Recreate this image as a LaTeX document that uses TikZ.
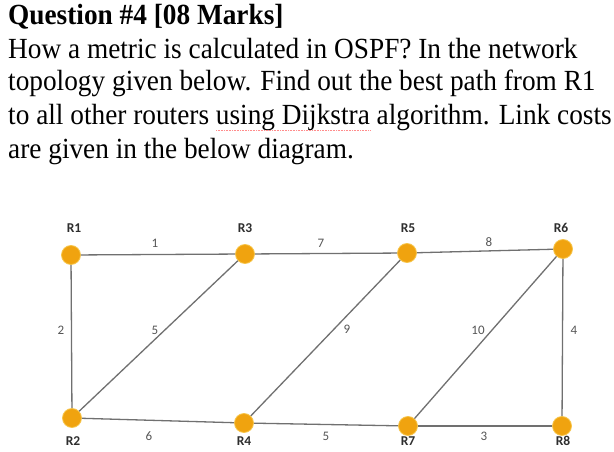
\documentclass[tikz,border=0pt]{standalone}
\usepackage{fontspec}
\setmainfont{Liberation Serif}
\newfontfamily\lblfont{Carlito}
\definecolor{nodeor}{HTML}{F0A30F}
\definecolor{nodeedge}{HTML}{F7C54A}
\definecolor{edgegray}{HTML}{707070}
\definecolor{lblgray}{HTML}{555555}
\definecolor{rname}{HTML}{2E2E2E}
\newcommand{\tallq}[1]{\scalebox{1}[1.07]{#1}}
\tikzset{
  router/.style={circle,fill=nodeor,draw=nodeedge,line width=0.8pt,minimum size=19pt,inner sep=0pt},
  link/.style={draw=edgegray,line width=1.3pt},
  cost/.style={font=\lblfont\fontsize{13}{13}\selectfont,text=lblgray,inner sep=0pt},
  rlabel/.style={font=\lblfont\bfseries\fontsize{13.5}{13.5}\selectfont,text=rname,inner sep=0pt},
  qline/.style={anchor=base west,inner sep=0pt,font=\fontsize{27.3}{27.3}\selectfont},
}
\begin{document}
\begin{tikzpicture}[x=1pt,y=-1pt]
\useasboundingbox[fill=white] (0,0) rectangle (614,452);
% question text
\node[qline,font=\bfseries\fontsize{27.3}{27.3}\selectfont] (t0) at (8,24.5) {\tallq{Question \#4 [08 Marks]}};
\node[qline] (t1) at (8,59) {\tallq{How a metric is calculated in OSPF? In the network}};
\node[qline] (t2) at (8,91) {\tallq{topology given below. Find out the best path from R1}};
\node[qline] (t3) at (8,124.5) {\tallq{to all other routers using Dijkstra algorithm. Link costs}};
\node[qline] (t4) at (8,158) {\tallq{are given in the below diagram.}};
\draw[red!45,line width=0.6pt,dash pattern=on 0.8pt off 0.8pt] (216,130) -- (370,130);
% routers
\node[router] (R1) at (71,255) {};
\node[router] (R3) at (245,254) {};
\node[router] (R5) at (407,253) {};
\node[router] (R6) at (563,249) {};
\node[router] (R2) at (72,418) {};
\node[router] (R4) at (244,423) {};
\node[router] (R7) at (408,426) {};
\node[router] (R8) at (562,426) {};
% links
\path[link] (R1) -- (R3);
\path[link] (R3) -- (R5);
\path[link] (R5) -- (R6);
\path[link] (R1) -- (R2);
\path[link] (R2) -- (R3);
\path[link] (R4) -- (R5);
\path[link] (R7) -- (R6);
\path[link] (R6) -- (R8);
\path[link] (R2) -- (R4);
\path[link] (R4) -- (R7);
\path[link] (R7) -- (R8);
% router names
\node[rlabel] (n1) at (74,228) {R1};
\node[rlabel] (n3) at (245,228) {R3};
\node[rlabel] (n5) at (408,228) {R5};
\node[rlabel] (n6) at (561,228) {R6};
\node[rlabel] (n2) at (73,441) {R2};
\node[rlabel] (n4) at (244,441) {R4};
\node[rlabel] (n7) at (408,441) {R7};
\node[rlabel] (n8) at (563,441) {R8};
% costs
\node[cost] (c1) at (155,243) {1};
\node[cost] (c7) at (321,243) {7};
\node[cost] (c8) at (489,242) {8};
\node[cost] (c2) at (61,330) {2};
\node[cost] (c5a) at (155,330) {5};
\node[cost] (c9) at (347,329) {9};
\node[cost] (c10) at (478,330) {10};
\node[cost] (c4) at (574,330) {4};
\node[cost] (c6) at (149,436) {6};
\node[cost] (c5b) at (326,436) {5};
\node[cost] (c3) at (484,436) {3};
\end{tikzpicture}
\end{document}
